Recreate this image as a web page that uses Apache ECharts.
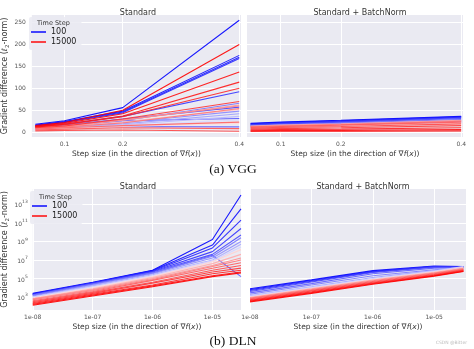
<!DOCTYPE html>
<html>
<head>
<meta charset="utf-8">
<script src="https://cdn.jsdelivr.net/npm/echarts@6/dist/echarts.min.js"></script>
<style>
  html, body { margin: 0; padding: 0; background: #ffffff; }
  #chart { width: 474px; height: 349px; }
</style>
</head>
<body>
<div id="chart"></div>
<script>
// ---- (a) VGG: gradient difference vs. step size, one line per time step (early -> late) ----
const vggSteps = [0.05, 0.1, 0.2, 0.4];
const vggStandard = [
  [18, 26, 56, 255],
  [16, 24, 48, 175],
  [15, 23, 46, 171],
  [14, 22, 44, 168],
  [12, 18, 36, 92],
  [11, 16, 30, 57],
  [10, 15, 26, 31],
  [7, 10, 13, 12],
  [9, 14, 26, 66],
  [8, 12, 22, 48],
  [7, 11, 19, 42],
  [6, 10, 17, 36],
  [6, 9, 15, 28],
  [5, 8, 13, 20],
  [8, 12, 23, 52],
  [9, 13, 27, 62],
  [11, 15, 28, 60],
  [9, 12, 21, 54],
  [7, 10, 15, 23],
  [5, 7, 10, 8],
  [3, 4, 5, 2],
  [10, 14, 30, 70],
  [12, 17, 35, 100],
  [12, 18, 37, 114],
  [13, 20, 42, 137],
  [15, 22, 50, 200]
];
const vggBatchNorm = [
  [20, 23, 27, 36],
  [19, 22, 26, 35],
  [18, 21, 25, 34],
  [17, 20, 24, 33],
  [16, 19, 23, 31],
  [15, 17, 21, 29],
  [14, 16, 20, 27],
  [13, 15, 18, 25],
  [12, 14, 17, 23],
  [11, 13, 16, 22],
  [10, 12, 14, 20],
  [14, 16, 19, 27],
  [13, 15, 18, 26],
  [12, 14, 17, 25],
  [11, 13, 16, 23],
  [9, 11, 13, 19],
  [7, 8, 10, 15],
  [5, 6, 7, 10],
  [3, 4, 4, 6],
  [2, 2, 2, 3]
];
const vggXTicks = [0.1, 0.2, 0.4];
const vggYTicks = [0, 50, 100, 150, 200, 250];

// ---- (b) DLN ----
const dlnSteps = [1e-8, 1e-7, 1e-6, 1e-5, 3e-5];
const dlnStandard = [
  [2.5e3, 4.0e4, 7.9e5, 1.6e9, 1.0e14],
  [2.2e3, 3.5e4, 7.1e5, 4.0e8, 3.2e12],
  [2.0e3, 3.2e4, 6.3e5, 2.0e8, 2.0e11],
  [2.0e3, 3.2e4, 5.6e5, 7.9e7, 2.5e10],
  [1.8e3, 2.8e4, 5.0e5, 4.0e7, 5.0e9],
  [1.6e3, 2.5e4, 4.0e5, 3.2e7, 1.6e5],
  [1.6e3, 2.5e4, 4.0e5, 2.5e7, 2.5e9],
  [1.3e3, 2.0e4, 3.2e5, 1.6e7, 1.0e9],
  [1.0e3, 1.6e4, 2.5e5, 1.0e7, 5.0e8],
  [1.0e3, 1.3e4, 2.0e5, 7.9e6, 2.5e8],
  [7.9e2, 1.0e4, 1.6e5, 6.3e6, 1.3e8],
  [6.3e2, 7.9e3, 1.3e5, 4.0e6, 4.0e7],
  [6.3e2, 6.3e3, 1.0e5, 2.5e6, 1.6e7],
  [5.0e2, 5.0e3, 7.9e4, 2.0e6, 1.0e7],
  [4.0e2, 4.0e3, 6.3e4, 1.3e6, 5.0e6],
  [3.2e2, 3.2e3, 4.0e4, 7.9e5, 2.5e6],
  [2.5e2, 2.5e3, 3.2e4, 5.0e5, 1.3e6],
  [2.0e2, 2.0e3, 2.0e4, 3.2e5, 7.9e5],
  [1.6e2, 1.6e3, 1.6e4, 2.0e5, 5.0e5],
  [1.3e2, 1.3e3, 1.3e4, 1.6e5, 4.0e5]
];
const dlnBatchNorm = [
  [7.9e3, 7.1e4, 7.1e5, 2.2e6, 2.0e6],
  [6.3e3, 6.0e4, 6.0e5, 2.0e6, 1.9e6],
  [5.0e3, 5.0e4, 5.2e5, 1.9e6, 1.8e6],
  [4.0e3, 4.2e4, 4.5e5, 1.7e6, 1.7e6],
  [2.8e3, 2.8e4, 3.2e5, 1.3e6, 1.6e6],
  [2.0e3, 2.0e4, 2.0e5, 8.9e5, 1.4e6],
  [1.4e3, 1.3e4, 1.3e5, 7.1e5, 1.8e6],
  [1.3e3, 1.1e4, 1.0e5, 6.3e5, 2.0e6],
  [1.0e3, 8.9e3, 7.9e4, 5.2e5, 1.6e6],
  [8.9e2, 7.6e3, 6.8e4, 4.5e5, 1.3e6],
  [7.6e2, 6.3e3, 5.8e4, 3.8e5, 1.1e6],
  [6.3e2, 5.2e3, 4.8e4, 3.2e5, 9.5e5],
  [5.2e2, 4.4e3, 4.0e4, 2.7e5, 8.3e5],
  [4.4e2, 3.6e3, 3.3e4, 2.3e5, 7.2e5],
  [3.6e2, 3.0e3, 2.8e4, 2.0e5, 6.3e5],
  [3.0e2, 2.5e3, 2.4e4, 1.8e5, 5.8e5]
];
const dlnXTicks = [1e-8, 1e-7, 1e-6, 1e-5];
const dlnXTickLabels = ['1e-08', '1e-07', '1e-06', '1e-05'];
const dlnYTicks = [1e3, 1e5, 1e7, 1e9, 1e11, 1e13];

const legendSteps = ['100', '15000'];
const panelTitles = ['Standard', 'Standard + BatchNorm'];

// ---- styling ----
const FONT = 'DejaVu Sans';
const PANEL_BG = '#EAEAF2';
const TICK_COLOR = '#555555';
const TEXT_COLOR = '#333333';

// blue -> white -> red colour ramp, eased away from the pale middle
function bwr(t) {
  const d = t - 0.5;
  const s = 0.5 + 0.5 * Math.sign(d) * Math.pow(Math.abs(2 * d), 0.6);
  let r, g, b;
  if (s < 0.5) { r = g = Math.round(510 * s); b = 255; }
  else { r = 255; g = b = Math.round(510 * (1 - s)); }
  return 'rgba(' + r + ',' + g + ',' + b + ',0.9)';
}

const xName = 'Step size (in the direction of \u2207{i|f}({i|x}))';
const yName = 'Gradient difference ({i|\u2113}{sub|2}-norm)';
const nameRich = {
  i: { fontStyle: 'italic', fontFamily: FONT, fontSize: 7.5, color: TEXT_COLOR },
  sub: { fontSize: 5.5, fontFamily: FONT, color: TEXT_COLOR, padding: [5, 0, 0, 0] }
};

const grids = [
  { left: 25, top: 15, width: 216, height: 122 },
  { left: 247, top: 15, width: 216, height: 122 },
  { left: 25, top: 189, width: 216, height: 121 },
  { left: 250, top: 189, width: 216, height: 121 }
].map(g => Object.assign({ show: true, backgroundColor: PANEL_BG, borderWidth: 0 }, g));

function supLabel(v) {
  const e = Math.round(Math.log10(v));
  return '{b|10}{s|' + e + '}';
}
const supRich = {
  b: { fontSize: 6, fontFamily: FONT, color: TICK_COLOR, verticalAlign: 'bottom', lineHeight: 9 },
  s: { fontSize: 4.5, fontFamily: FONT, color: TICK_COLOR, verticalAlign: 'top', lineHeight: 9 }
};

function baseAxis(extra) {
  return Object.assign({
    axisLine: { show: false },
    axisTick: { show: false },
    splitLine: { show: true, lineStyle: { color: '#ffffff', width: 1 } },
    axisLabel: { fontSize: 6, color: TICK_COLOR, fontFamily: FONT, margin: 5 }
  }, extra);
}

const xNameStyle = { fontSize: 7.5, color: TEXT_COLOR, fontFamily: FONT, rich: nameRich };
const yNameStyle = { fontSize: 8, color: TEXT_COLOR, fontFamily: FONT, rich: nameRich };

function vggX(gridIndex) {
  return baseAxis({
    type: 'value', gridIndex, min: 0.044, max: 0.403,
    axisTick: { show: false, customValues: vggXTicks },
    axisLabel: { fontSize: 6, color: TICK_COLOR, fontFamily: FONT, margin: 4, customValues: vggXTicks,
      formatter: v => String(v) },
    name: xName, nameLocation: 'middle', nameGap: 13, nameTextStyle: xNameStyle
  });
}
function vggY(gridIndex, showLabels) {
  const ax = baseAxis({
    type: 'value', gridIndex, min: -11, max: 267,
    axisTick: { show: false, customValues: vggYTicks },
    axisLabel: { show: showLabels, fontSize: 6, color: TICK_COLOR, fontFamily: FONT, margin: 6, customValues: vggYTicks }
  });
  if (showLabels) {
    Object.assign(ax, { name: yName, nameLocation: 'middle', nameGap: 19, nameTextStyle: yNameStyle });
  }
  return ax;
}
function dlnX(gridIndex, max) {
  return baseAxis({
    type: 'log', logBase: 10, gridIndex, min: 1e-8, max: max,
    axisTick: { show: false, customValues: dlnXTicks },
    axisLabel: { fontSize: 6, color: TICK_COLOR, fontFamily: FONT, margin: 4, customValues: dlnXTicks,
      formatter: v => dlnXTickLabels[Math.round(Math.log10(v)) + 8] },
    name: xName, nameLocation: 'middle', nameGap: 13, nameTextStyle: xNameStyle
  });
}
function dlnY(gridIndex, showLabels) {
  const ax = baseAxis({
    type: 'log', logBase: 10, gridIndex, min: 40, max: 4.5e14,
    axisTick: { show: false, customValues: dlnYTicks },
    axisLabel: { show: showLabels, margin: 5, customValues: dlnYTicks, formatter: supLabel, rich: supRich }
  });
  if (showLabels) {
    Object.assign(ax, { name: yName, nameLocation: 'middle', nameGap: 19, nameTextStyle: yNameStyle });
  }
  return ax;
}

function makeSeries(lines, steps, axisIndex) {
  const n = lines.length;
  return lines.map((vals, i) => {
    const c = bwr(i / (n - 1));
    return {
      type: 'line',
      name: i === 0 ? legendSteps[0] : (i === n - 1 ? legendSteps[1] : 'step-' + axisIndex + '-' + i),
      xAxisIndex: axisIndex, yAxisIndex: axisIndex,
      data: steps.map((s, k) => [s, vals[k]]),
      symbol: 'none', silent: true,
      lineStyle: { width: 1.1, color: c },
      itemStyle: { color: c },
      z: 2 + i / n
    };
  });
}

// legend box (with room on top for the "Time Step" heading)
const legendBase = {
  data: legendSteps, orient: 'vertical', icon: 'rect',
  itemWidth: 15, itemHeight: 1.6, itemGap: 0,
  padding: [10, 5, 3, 2],
  backgroundColor: 'rgba(234,234,242,0.85)',
  borderRadius: 2,
  textStyle: { fontSize: 8, color: '#222', fontFamily: FONT, lineHeight: 10 },
  selectedMode: false
};

const option = {
  animation: false,
  backgroundColor: '#ffffff',
  textStyle: { fontFamily: FONT },
  grid: grids,
  title: [
    { text: panelTitles[0], left: 133, top: 4, textAlign: 'center' },
    { text: panelTitles[1], left: 355, top: 4, textAlign: 'center' },
    { text: panelTitles[0], left: 133, top: 178, textAlign: 'center' },
    { text: panelTitles[1], left: 358, top: 178, textAlign: 'center' }
  ].map(t => Object.assign(t, { textStyle: { fontSize: 8, fontWeight: 'normal', color: TEXT_COLOR, fontFamily: FONT } })),
  legend: [
    Object.assign({ left: 29, top: 17 }, legendBase),
    Object.assign({ left: 30, top: 191 }, legendBase)
  ],
  xAxis: [vggX(0), vggX(1), dlnX(2, 3e-5), dlnX(3, 3.3e-5)],
  yAxis: [vggY(0, true), vggY(1, false), dlnY(2, true), dlnY(3, false)],
  series: [].concat(
    makeSeries(vggStandard, vggSteps, 0),
    makeSeries(vggBatchNorm, vggSteps, 1),
    makeSeries(dlnStandard, dlnSteps, 2),
    makeSeries(dlnBatchNorm, dlnSteps, 3)
  ),
  graphic: [
    { type: 'text', left: 37, top: 20, z: 100, style: { text: 'Time Step', fontSize: 6.5, fill: '#333', fontFamily: FONT } },
    { type: 'text', left: 39, top: 194, z: 100, style: { text: 'Time Step', fontSize: 6.5, fill: '#333', fontFamily: FONT } },
    { type: 'text', x: 233, y: 169, style: { text: '(a) VGG', fontSize: 13.5, fill: '#111', fontFamily: 'Liberation Serif', align: 'center', verticalAlign: 'middle' } },
    { type: 'text', x: 233, y: 341, style: { text: '(b) DLN', fontSize: 13.5, fill: '#111', fontFamily: 'Liberation Serif', align: 'center', verticalAlign: 'middle' } },
    { type: 'text', x: 467, y: 343, style: { text: 'CSDN @Bitter', fontSize: 4.5, fill: '#bbbbbb', fontFamily: FONT, align: 'right', verticalAlign: 'middle' } }
  ]
};

const chart = echarts.init(document.getElementById('chart'), null, { renderer: 'canvas' });
chart.setOption(option);
</script>
</body>
</html>
